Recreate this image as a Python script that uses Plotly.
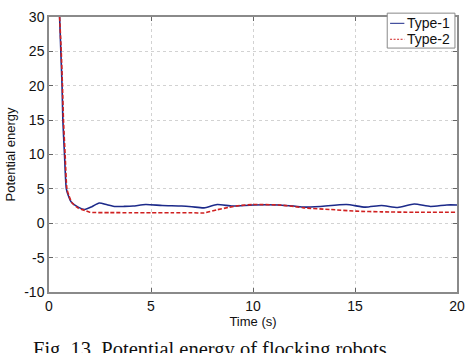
import plotly.graph_objects as go

# Type-1 (solid blue)
t1 = [0.52, 0.58, 0.64, 0.68, 0.76, 0.85, 0.95, 1.1, 1.43, 1.75, 2.1, 2.46, 2.85, 3.25, 3.7, 4.12, 4.74, 5.55, 6.5, 7.0, 7.6, 8.24, 9.0, 10.0, 11.26, 12.0, 12.5, 13.3, 14.58, 15.5, 16.3, 17.1, 17.9, 18.7, 19.5, 20.0]
e1 = [30, 25, 20, 15, 10, 5, 4.0, 3.05, 2.34, 2.0, 2.4, 2.95, 2.7, 2.44, 2.45, 2.5, 2.72, 2.58, 2.5, 2.4, 2.24, 2.72, 2.5, 2.66, 2.66, 2.5, 2.34, 2.44, 2.72, 2.34, 2.58, 2.3, 2.8, 2.44, 2.66, 2.66]

# Type-2 (dashed red)
t2 = [0.52, 0.6, 0.66, 0.71, 0.79, 0.88, 0.98, 1.12, 1.43, 1.75, 2.0, 3.0, 4.0, 5.0, 6.0, 7.0, 7.6, 8.24, 8.8, 9.35, 10.0, 11.26, 12.0, 12.5, 13.8, 15.06, 16.3, 17.9, 20.0]
e2 = [30, 25, 20, 15, 10, 5, 4.0, 3.0, 2.2, 1.87, 1.6, 1.55, 1.53, 1.53, 1.53, 1.53, 1.5, 1.96, 2.3, 2.58, 2.72, 2.66, 2.45, 2.24, 2.0, 1.76, 1.66, 1.6, 1.6]

x_ticks = [0, 5, 10, 15, 20]
y_ticks = [-10, -5, 0, 5, 10, 15, 20, 25, 30]
y_tick_labels = ["-10", "-5", "0", "5", "10", "15", "20", "25", "30"]

series_names = ["Type-1", "Type-2"]
series_colors = ["#1c2a8a", "#d02020"]
series_dash = ["solid", "4px,2px"]

fig = go.Figure()
fig.add_trace(go.Scatter(x=t1, y=e1, mode="lines", name=series_names[0], showlegend=False,
                         line=dict(color=series_colors[0], width=1.6, dash=series_dash[0],
                                   shape="spline", smoothing=0.6)))
fig.add_trace(go.Scatter(x=t2, y=e2, mode="lines", name=series_names[1], showlegend=False,
                         line=dict(color=series_colors[1], width=1.6, dash=series_dash[1],
                                   shape="spline", smoothing=0.6)))

axis_common = dict(
    showline=True, linecolor="#8a8a8a", linewidth=1.5, mirror="ticks",
    ticks="inside", ticklen=4, tickcolor="#666",
    showgrid=True, gridcolor="#d2d2d2", griddash="dot", gridwidth=1,
    zeroline=False,
    tickfont=dict(family="Liberation Sans, Arial", size=14, color="#111"),
)

fig.update_xaxes(range=[0, 20], tickvals=x_ticks, **axis_common,
                 title=dict(text="Time (s)", font=dict(family="Liberation Sans, Arial", size=13, color="#111"), standoff=0))
fig.update_yaxes(range=[-10, 30], tickvals=y_ticks, ticktext=y_tick_labels, **axis_common,
                 title=dict(text="Potential energy", font=dict(family="Liberation Sans, Arial", size=13, color="#111"), standoff=6))

# custom compact legend (MATLAB style)
fig.add_shape(type="rect", xref="paper", yref="paper", x0=0.829, x1=0.995, y0=0.887, y1=1.014,
              line=dict(color="#888", width=1), fillcolor="white", layer="above")
leg_y = [0.977, 0.919]
for name, col, dash, yy in zip(series_names, series_colors, series_dash, leg_y):
    fig.add_shape(type="line", xref="paper", yref="paper", x0=0.836, x1=0.871, y0=yy, y1=yy,
                  line=dict(color=col, width=1, dash="2px,1.5px" if dash != "solid" else "solid"), layer="above")
    fig.add_annotation(text=name, xref="paper", yref="paper", x=0.872, y=yy,
                       xanchor="left", yanchor="middle", showarrow=False,
                       font=dict(family="Liberation Sans, Arial", size=14, color="#111"))

fig.add_annotation(text="Fig. 13. Potential energy of flocking robots",
                   xref="paper", yref="paper", x=-0.043, y=-0.160,
                   xanchor="left", yanchor="top", showarrow=False,
                   font=dict(family="Liberation Serif, Times New Roman", size=20.5, color="#111"))

fig.update_layout(
    width=474, height=353,
    margin=dict(l=43, r=10, t=9, b=61),
    paper_bgcolor="white", plot_bgcolor="white",
    showlegend=False,
)

fig.write_html("out.html")
